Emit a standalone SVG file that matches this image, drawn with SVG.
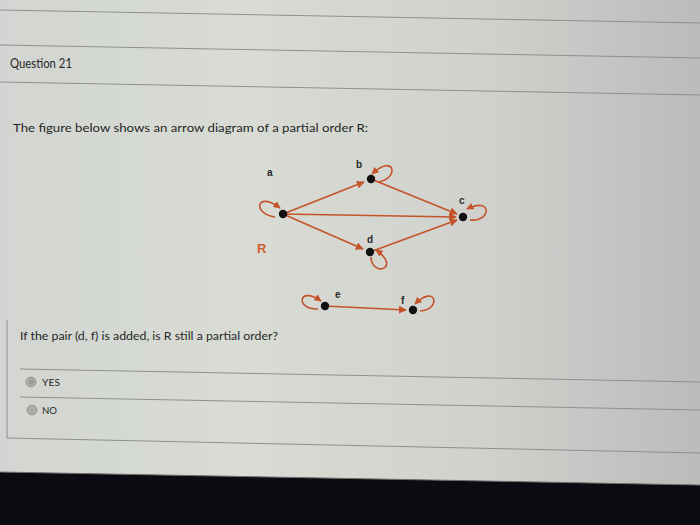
<svg xmlns="http://www.w3.org/2000/svg" width="700" height="525" viewBox="0 0 700 525">
  <defs>
    <linearGradient id="bg" x1="0" y1="0" x2="1" y2="0">
      <stop offset="0" stop-color="#d2d5d1"/>
      <stop offset="0.35" stop-color="#d8dcd4"/>
      <stop offset="0.7" stop-color="#d0d1cd"/>
      <stop offset="1" stop-color="#bbbbba"/>
    </linearGradient>
    <marker id="arr" viewBox="0 0 10 10" refX="9" refY="5" markerWidth="5" markerHeight="5" orient="auto" markerUnits="strokeWidth">
      <path d="M0,0 L10,5 L0,10 z" fill="#c4532a"/>
    </marker>
    <marker id="arrs" viewBox="0 0 10 10" refX="9" refY="5" markerWidth="4.5" markerHeight="4.5" orient="auto" markerUnits="strokeWidth">
      <path d="M0,0 L10,5 L0,10 z" fill="#c4532a"/>
    </marker>
  </defs>
  <style>
    .txt { font-family: Lato, "Liberation Sans", sans-serif; fill: #262727; }
    .rule { stroke: #8e908d; stroke-width: 1; fill: none; }
    .edge { stroke: #c4532a; stroke-width: 1.6; fill: none; marker-end: url(#arr); }
    .loop { stroke: #c4532a; stroke-width: 1.6; fill: none; marker-end: url(#arrs); }
    .dot { fill: #111111; }
    .lbl { font-family: "Liberation Sans", Arial, sans-serif; font-weight: bold; font-size: 10px; fill: #2a2a2a; }
    .radio { fill: #a9ada5; stroke: #8d908a; stroke-width: 0.8; }
  </style>

  <rect x="0" y="0" width="700" height="525" fill="url(#bg)"/>

  <!-- ruled lines of the page -->
  <line class="rule" x1="0" y1="10" x2="700" y2="23"/>
  <line class="rule" x1="0" y1="45" x2="700" y2="58"/>
  <line class="rule" x1="0" y1="82" x2="700" y2="95"/>
  <line class="rule" x1="20" y1="369" x2="700" y2="382"/>
  <line class="rule" x1="20" y1="397" x2="700" y2="410"/>
  <line class="rule" x1="7" y1="320" x2="7" y2="438"/>
  <line class="rule" x1="7" y1="438" x2="700" y2="453"/>

  <!-- dark bottom -->
  <polygon points="0,472 700,485 700,525 0,525" fill="#0b0c11"/>
  <line x1="0" y1="472" x2="700" y2="485" stroke="#6e706d" stroke-width="1"/>

  <!-- texts -->
  <text class="txt" x="10" y="68" font-size="14" textLength="62" lengthAdjust="spacingAndGlyphs">Question 21</text>
  <text class="txt" x="13" y="132" font-size="12" textLength="355" lengthAdjust="spacingAndGlyphs">The figure below shows an arrow diagram of a partial order R:</text>
  <text class="txt" x="20" y="340" font-size="11" textLength="258" lengthAdjust="spacingAndGlyphs">If the pair (d, f) is added, is R still a partial order?</text>

  <g id="opt-yes">
    <circle class="radio" cx="31" cy="382" r="5"/>
    <circle cx="31" cy="382" r="2.5" fill="#969a92"/>
    <text class="txt" x="42" y="386" font-size="10" textLength="18" lengthAdjust="spacingAndGlyphs">YES</text>
  </g>
  <g id="opt-no">
    <circle class="radio" cx="32" cy="410" r="5"/>
    <text class="txt" x="42" y="414" font-size="10" textLength="15" lengthAdjust="spacingAndGlyphs">NO</text>
  </g>

  <!-- connectors -->
  <g id="connectors">
    <line class="edge" x1="283" y1="214" x2="364" y2="182"/>
    <line class="edge" x1="283" y1="214" x2="456" y2="217"/>
    <line class="edge" x1="283" y1="214" x2="363" y2="249"/>
    <line class="edge" x1="371" y1="179" x2="457" y2="214"/>
    <line class="edge" x1="370" y1="252" x2="457" y2="220"/>
    <line class="edge" x1="325" y1="306" x2="406" y2="310"/>
    <path class="loop" d="M275 217 C252 214, 256 190, 280 208"/>
    <path class="loop" d="M377 182 C400 180, 395 152, 372 174"/>
    <path class="loop" d="M470 220 C492 222, 492 196, 467 209"/>
    <path class="loop" d="M371 257 C372 278, 402 268, 376 250"/>
    <path class="loop" d="M318 309 C295 310, 298 285, 321 301"/>
    <path class="loop" d="M420 311 C442 310, 436 283, 415 304"/>
  </g>

  <!-- nodes -->
  <g id="node-a"><circle class="dot" cx="283" cy="214" r="4.2"/><text class="lbl" x="267" y="176">a</text></g>
  <g id="node-b"><circle class="dot" cx="371" cy="179" r="4.2"/><text class="lbl" x="356" y="168">b</text></g>
  <g id="node-c"><circle class="dot" cx="463" cy="217" r="4.2"/><text class="lbl" x="459" y="204">c</text></g>
  <g id="node-d"><circle class="dot" cx="370" cy="252" r="4.2"/><text class="lbl" x="367" y="243">d</text></g>
  <g id="node-e"><circle class="dot" cx="325" cy="306" r="4.2"/><text class="lbl" x="335" y="298">e</text></g>
  <g id="node-f"><circle class="dot" cx="413" cy="310" r="4.2"/><text class="lbl" x="401" y="304">f</text></g>
  <g id="label-R"><text x="257" y="253" font-family="'Liberation Sans', Arial, sans-serif" font-weight="bold" font-size="13" fill="#cf5e2c">R</text></g>
</svg>
